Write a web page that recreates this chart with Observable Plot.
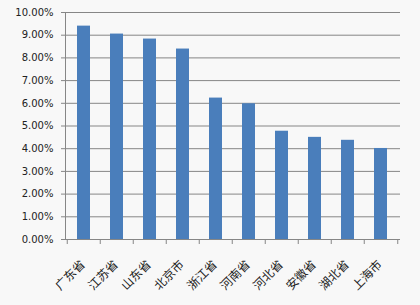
<!DOCTYPE html>
<html>
<head>
<meta charset="utf-8">
<script src="https://cdn.jsdelivr.net/npm/d3@7"></script>
<script src="https://cdn.jsdelivr.net/npm/@observablehq/plot@0.6"></script>
<style>
  html, body { margin: 0; padding: 0; background: #f8f8f8; }
</style>
</head>
<body>
<div id="chart"></div>
<script>
const categories = ["广东省", "江苏省", "山东省", "北京市", "浙江省", "河南省", "河北省", "安徽省", "湖北省", "上海市"];
const values = [0.0940, 0.0905, 0.0883, 0.0839, 0.0623, 0.0598, 0.0477, 0.0450, 0.0437, 0.0401];
const yTicks = [0, 0.01, 0.02, 0.03, 0.04, 0.05, 0.06, 0.07, 0.08, 0.09, 0.10];

const data = categories.map((c, i) => ({cat: c, value: values[i]}));
const axisColor = "#868686";
const half = (400 - 65) / categories.length / 2;

const chart = Plot.plot({
  width: 420,
  height: 305,
  marginLeft: 65,
  marginRight: 20,
  marginTop: 12,
  marginBottom: 66,
  style: {background: "#f8f8f8", fontFamily: "DejaVu Sans", fontSize: "10px", color: "#222"},
  x: {domain: categories, paddingInner: 0.6, paddingOuter: 0.3, label: null},
  y: {domain: [0, 0.10], label: null},
  marks: [
    Plot.gridY(yTicks, {stroke: axisColor, strokeOpacity: 1}),
    Plot.barY(data, {x: "cat", y: "value", fill: "#4a7ebb"}),
    Plot.frame({anchor: "left", stroke: axisColor}),
    Plot.ruleY([0], {stroke: axisColor}),
    Plot.axisY(yTicks, {tickSize: 4, tickPadding: 8, stroke: axisColor, fill: "#222",
      tickFormat: d => (d * 100).toFixed(2) + "%", label: null}),
    Plot.axisX({tickSize: 5, tickFormat: () => "", dx: -half, stroke: axisColor, label: null}),
    Plot.axisX([categories[categories.length - 1]], {tickSize: 5, tickFormat: () => "", dx: half, stroke: axisColor, label: null}),
    Plot.axisX({tickSize: 0, tickPadding: 19, dx: -1, dy: 4, tickRotate: -45, fontFamily: "Noto Sans CJK SC", fontSize: 12, fill: "#222", label: null})
  ]
});
document.getElementById("chart").appendChild(chart);
</script>
</body>
</html>
